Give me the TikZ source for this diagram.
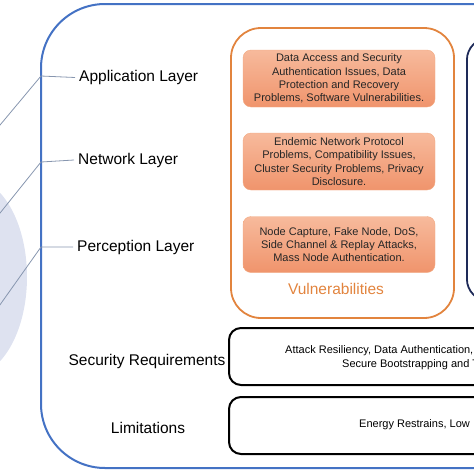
\documentclass[tikz,border=0pt]{standalone}
\usepackage{fontspec}
\setmainfont{Liberation Sans}
\usetikzlibrary{shapes.geometric, arrows}
\definecolor{frameblue}{RGB}{68,114,196}
\definecolor{vulorange}{RGB}{226,132,62}
\definecolor{threatnavy}{RGB}{30,42,88}
\definecolor{leadergray}{RGB}{135,150,175}
\definecolor{cloudfill}{RGB}{222,226,240}
\definecolor{salmontop}{RGB}{247,186,156}
\definecolor{salmonbot}{RGB}{240,148,108}
\definecolor{salmonline}{RGB}{242,170,130}
\tikzstyle{leader} = [draw=leadergray, line width=0.8pt]
\tikzstyle{layer} = [anchor=west, inner sep=4pt, font=\fontsize{15.5}{18}\selectfont]
\tikzstyle{vulbox} = [rectangle, rounded corners=8pt, minimum width=192pt, minimum height=57pt, align=center, draw=salmonline, top color=salmontop, bottom color=salmonbot, text=black!85, font=\fontsize{11}{13.3}\selectfont]
\tikzstyle{reqbox} = [rectangle, rounded corners=12pt, minimum width=400pt, minimum height=57pt, draw=black, line width=2pt, anchor=west]
\tikzstyle{reqtext} = [anchor=west, inner sep=0pt, font=\fontsize{11}{14}\selectfont]
\tikzstyle{side} = [font=\fontsize{15.5}{18}\selectfont]

\begin{document}
\begin{tikzpicture}[x=1pt, y=-1pt, node distance=83pt]
\useasboundingbox (0,0) rectangle (474,474);
\clip (0,0) rectangle (474,474);

% layers cloud and outer frame
\fill[cloudfill] (-30,277) ellipse (57 and 99);
\draw[frameblue, line width=2pt, rounded corners=64pt] (600,4) -- (41,4) -- (41,468) -- (600,468);

\coordinate (appin) at (-20,149);
\coordinate (appbend) at (41,76);
\coordinate (netin) at (-20,238);
\coordinate (netbend) at (41,162);
\coordinate (percin) at (-20,333);
\coordinate (percbend) at (41,247);

\node (app) [layer] at (75,77.5) {Application Layer};
\node (net) [layer] at (74,160) {Network Layer};
\node (perc) [layer] at (73,247) {Perception Layer};

\draw[leader] (appin) -- (appbend) -- (app.west);
\draw[leader] (netin) -- (netbend) -- (net.west);
\draw[leader] (percin) -- (percbend) -- (perc.west);

% vulnerabilities
\node (vulframe) [rectangle, rounded corners=30pt, minimum width=223pt, minimum height=290pt, draw=vulorange, line width=1.8pt] at (342.5,173) {};
\node (vulapp) [vulbox] at (339,78.5) {Data Access and Security\\Authentication Issues, Data\\Protection and Recovery\\Problems, Software Vulnerabilities.};
\node (vulnet) [vulbox, below of=vulapp] {Endemic Network Protocol\\Problems, Compatibility Issues,\\Cluster Security Problems, Privacy\\Disclosure.};
\node (vulperc) [vulbox, below of=vulnet, minimum height=56pt] {Node Capture, Fake Node, DoS,\\Side Channel \& Replay Attacks,\\Mass Node Authentication.};
\node (vultitle) [side, text=vulorange] at (336,289) {Vulnerabilities};

% threats frame (cut off)
\node (threatframe) [rectangle, rounded corners=22pt, minimum width=120pt, minimum height=263pt, draw=threatnavy, line width=1.8pt, anchor=west] at (466,169.5) {};

% requirements and limitations
\node (secbox) [reqbox] at (228,356.5) {};
\node (limbox) [reqbox] at (228,425.5) {};
\node (secreq) [side] at (147,361) {Security Requirements};
\node (lim) [side] at (148,428) {Limitations};
\node (sectext1) [reqtext] at (285,351) {Attack Resiliency, Data Authentication,};
\node (sectext2) [reqtext] at (342,365) {Secure Bootstrapping and T};
\node (limtext) [reqtext] at (359,425) {Energy Restrains, Low};

\end{tikzpicture}
\end{document}
